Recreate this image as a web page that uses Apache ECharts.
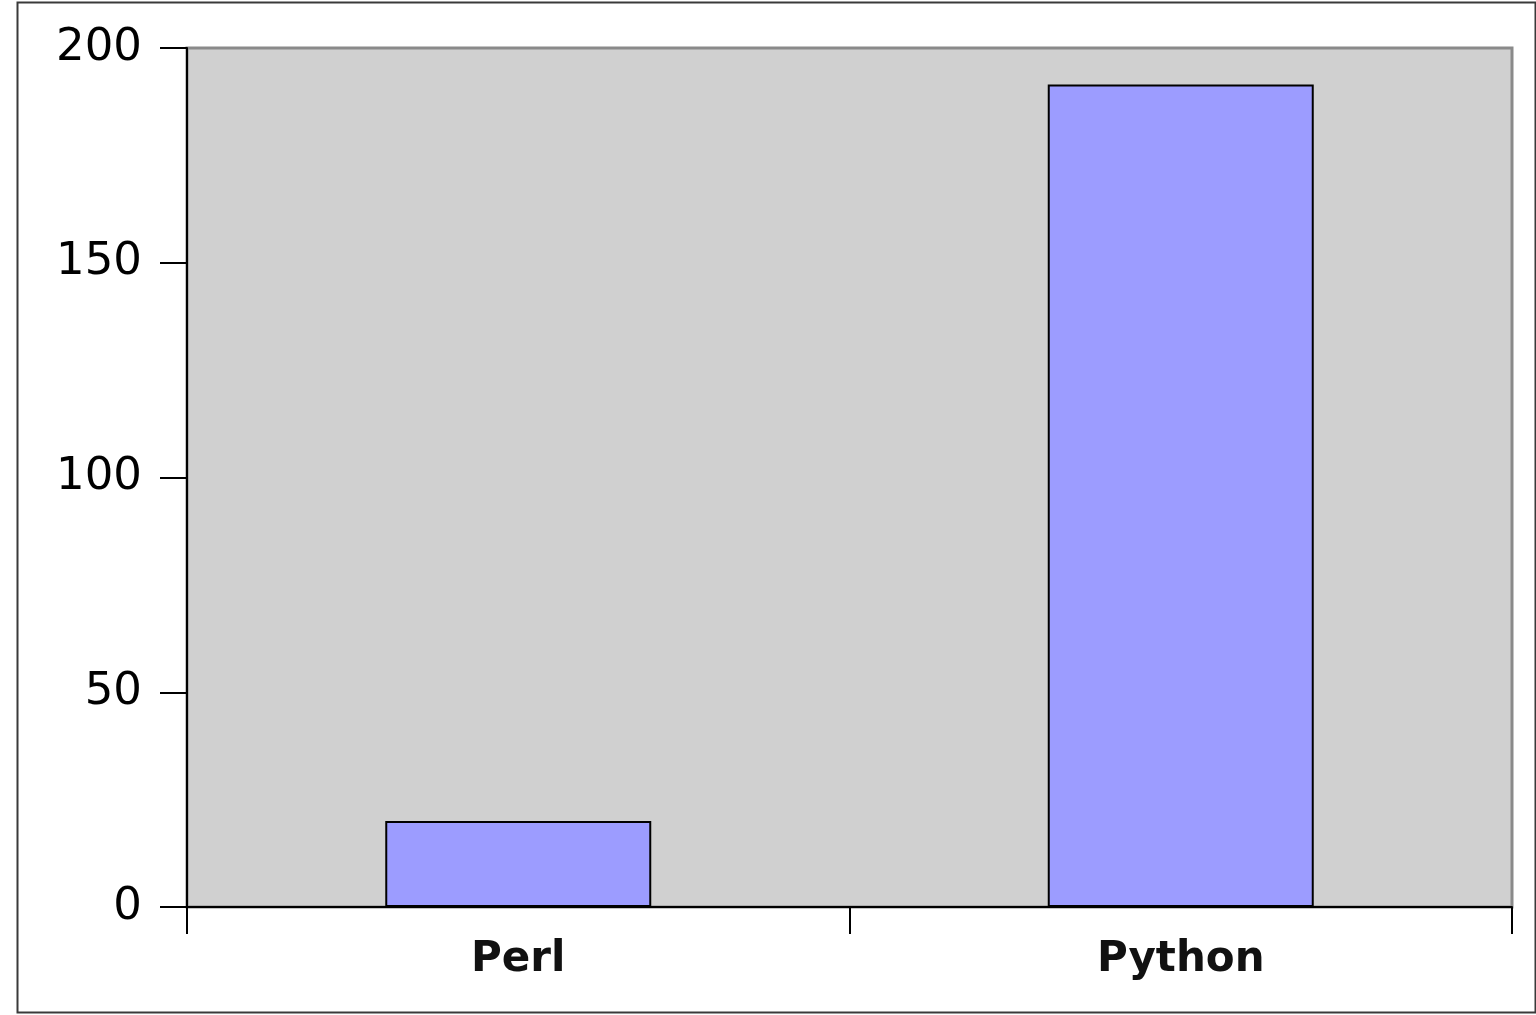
<!DOCTYPE html>
<html><head><meta charset="utf-8">
<script src="https://cdn.jsdelivr.net/npm/echarts@6/dist/echarts.min.js"></script>
<style>html,body{margin:0;padding:0;background:#fff}#c{width:1536px;height:1015px}</style>
</head><body><div id="c"></div>
<script>
const categories = ['Perl', 'Python'];
const values = [20, 191.5];
const yTicks = { min: 0, max: 200, interval: 50 };

const chart = echarts.init(document.getElementById('c'), null, { renderer: 'canvas' });
chart.setOption({
  animation: false,
  backgroundColor: '#ffffff',
  graphic: [{
    type: 'rect', left: 15, top: 0,
    shape: { width: 1518, height: 1010 },
    style: { fill: 'none', stroke: '#3a3a3a', lineWidth: 2 }, z: 100
  }],
  grid: {
    left: 187, right: 24, top: 48, bottom: 108,
    show: true, backgroundColor: '#d0d0d0', borderColor: '#8a8a8a', borderWidth: 3
  },
  xAxis: {
    type: 'category', data: categories,
    axisLine: { lineStyle: { color: '#000', width: 2 } },
    axisTick: { show: true, length: 27, lineStyle: { color: '#000', width: 2 } },
    axisLabel: { color: '#111', fontFamily: 'DejaVu Sans', fontWeight: 'bold', fontSize: 42, margin: 32 },
    splitLine: { show: false }
  },
  yAxis: {
    type: 'value', min: yTicks.min, max: yTicks.max, interval: yTicks.interval,
    axisLine: { show: true, lineStyle: { color: '#000', width: 2 } },
    axisTick: { show: true, length: 27, lineStyle: { color: '#000', width: 2 } },
    axisLabel: { color: '#000', fontFamily: 'DejaVu Sans', fontSize: 45, margin: 45 },
    splitLine: { show: false }
  },
  series: [{
    type: 'bar', data: values, barWidth: 266,
    itemStyle: { color: '#9c9cff', borderColor: '#000', borderWidth: 2 }
  }]
});
</script></body></html>
